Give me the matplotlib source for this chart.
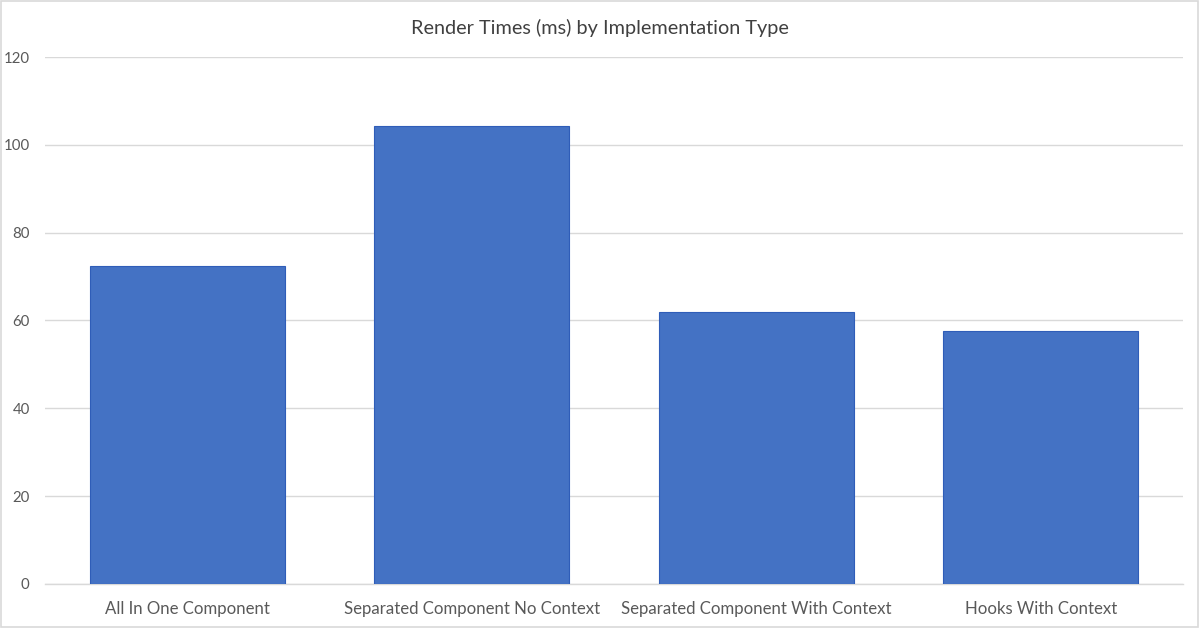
import matplotlib
matplotlib.use("Agg")
import matplotlib.pyplot as plt
from matplotlib.patches import Rectangle

categories = ["All In One Component", "Separated Component No Context",
              "Separated Component With Context", "Hooks With Context"]
render_ms = [72.4, 104.3, 62.0, 57.5]
y_ticks = [0, 20, 40, 60, 80, 100, 120]

plt.rcParams['font.family'] = ['Lato', 'DejaVu Sans']

fig = plt.figure(figsize=(12, 6.28), dpi=100)
ax = fig.add_axes([0.0375, 0.0701, 0.9483, 0.8391])

x = list(range(len(categories)))
ax.bar(x, render_ms, width=0.685, color="#4472C4", edgecolor="#2F5DB8",
       linewidth=0.8, zorder=3)

ax.set_xlim(-0.5, len(categories) - 0.5)
ax.set_ylim(0, 120)
ax.set_yticks(y_ticks)
ax.set_yticklabels([str(t) for t in y_ticks])
ax.set_xticks(x)
ax.set_xticklabels(categories)
ax.tick_params(axis='both', length=0, colors="#595959", labelsize=12.1)
ax.tick_params(axis='y', pad=11, labelsize=10.8)
ax.tick_params(axis='x', pad=12)
ax.grid(axis='y', color="#d9d9d9", linewidth=1, zorder=0)
for s in ["top", "right", "left"]:
    ax.spines[s].set_visible(False)
ax.spines["bottom"].set_color("#d9d9d9")
ax.spines["bottom"].set_linewidth(1)

fig.text(0.5, 0.955, "Render Times (ms) by Implementation Type", ha="center",
         va="center", fontsize=14.3, color="#404040")

fig.patches.append(Rectangle((0.001, 0.002), 0.997, 0.996, transform=fig.transFigure,
                             fill=False, edgecolor="#d9d9d9", linewidth=1.2))

fig.savefig("out.png", dpi=100, facecolor="white")
